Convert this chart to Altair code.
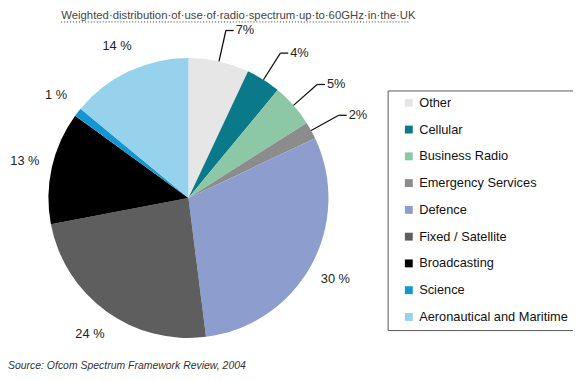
import altair as alt
import pandas as pd

# ---- data ----
categories = ["Other", "Cellular", "Business Radio", "Emergency Services", "Defence",
              "Fixed / Satellite", "Broadcasting", "Science", "Aeronautical and Maritime"]
shares = [7, 4, 5, 2, 30, 24, 13, 1, 14]
colors = ["#E6E6E6", "#0A7A8A", "#8DC8A6", "#8C8C8C", "#8D9ECE",
          "#5E5E5E", "#000000", "#1496D2", "#96D2EC"]

title_text = "Weighted·distribution·of·use·of·radio·spectrum·up·to·60GHz·in·the·UK"
source_text = "Source: Ofcom Spectrum Framework Review, 2004"

df = pd.DataFrame({"category": categories, "share": shares, "order": list(range(len(categories)))})

# ---- layout (chart pixel coordinates) ----
W, H = 573, 373
CX, CY, R = 183, 190, 142
RL = 170   # radius of plain labels
RE = 174   # radius of leader elbows
FONT = "Liberation Sans"

base = alt.Chart(df).transform_window(
    cum="sum(share)", sort=[alt.SortField("order")]
).transform_calculate(
    mid="(datum.cum - datum.share / 2) / 100 * 2 * PI",
    lead="(datum.cum - datum.share / 2) < 25",
)

pie = alt.Chart(df).mark_arc(outerRadius=R).encode(
    theta=alt.Theta("share:Q", stack=True),
    order=alt.Order("order:Q"),
    color=alt.Color(
        "category:N",
        sort=categories,
        scale=alt.Scale(domain=categories, range=colors),
        legend=alt.Legend(
            title=None, orient="none", legendX=385, legendY=81,
            padding=6, symbolType="square", symbolSize=64, symbolOffset=9,
            symbolStrokeWidth=0, labelOffset=4, rowPadding=13.15,
            labelFont=FONT, labelFontSize=13, labelColor="#111",
            strokeColor="#555", fillColor="white",
        ),
    ),
    x=alt.value(CX),
    y=alt.value(CY),
)

plain = base.transform_filter("!datum.lead").transform_calculate(
    lx=f"{CX} + {RL} * sin(datum.mid)",
    ly=f"{CY} - {RL} * cos(datum.mid)",
    txt="datum.share + ' %'",
).mark_text(font=FONT, fontSize=13, color="#222", baseline="middle", align="center").encode(
    x=alt.X("lx:Q", scale=None), y=alt.Y("ly:Q", scale=None), text="txt:N"
)

leader = base.transform_filter("datum.lead").transform_calculate(
    sx=f"{CX} + {R} * sin(datum.mid)",
    sy=f"{CY} - {R} * cos(datum.mid)",
    ex=f"{CX} + {RE} * sin(datum.mid)",
    ey=f"{CY} - {RE} * cos(datum.mid)",
    hx=f"{CX} + {RE} * sin(datum.mid) + 8",
    tx=f"{CX} + {RE} * sin(datum.mid) + 10",
    txt="datum.share + '%'",
)

diag = leader.mark_rule(color="#111", strokeWidth=1.3).encode(
    x=alt.X("sx:Q", scale=None), y=alt.Y("sy:Q", scale=None),
    x2="ex:Q", y2="ey:Q",
)
horiz = leader.mark_rule(color="#111", strokeWidth=1.3).encode(
    x=alt.X("ex:Q", scale=None), y=alt.Y("ey:Q", scale=None),
    x2="hx:Q", y2="ey:Q",
)
lead_text = leader.mark_text(font=FONT, fontSize=13, color="#222", align="left", baseline="middle").encode(
    x=alt.X("tx:Q", scale=None), y=alt.Y("ey:Q", scale=None), text="txt:N"
)

title = alt.Chart(pd.DataFrame({"t": [title_text]})).mark_text(
    font=FONT, fontSize=11.5, color="#444", align="left", baseline="alphabetic"
).encode(x=alt.value(54), y=alt.value(9), text="t:N")

underline = alt.Chart(pd.DataFrame({"t": [title_text]})).mark_rule(
    color="#333", strokeDash=[1, 2], strokeWidth=1
).encode(x=alt.value(54), x2=alt.value(407), y=alt.value(11.5))

source = alt.Chart(pd.DataFrame({"t": [source_text]})).mark_text(
    font=FONT, fontSize=10.6, fontStyle="italic", color="#333", align="left", baseline="middle"
).encode(x=alt.value(0), y=alt.value(360), text="t:N")

chart = alt.layer(pie, plain, diag, horiz, lead_text, title, underline, source).properties(
    width=W, height=H, autosize=alt.AutoSizeParams(type="none"), padding=0
).configure_view(stroke=None)

chart.save("out.html", embed_options={"renderer": "svg", "actions": False})
